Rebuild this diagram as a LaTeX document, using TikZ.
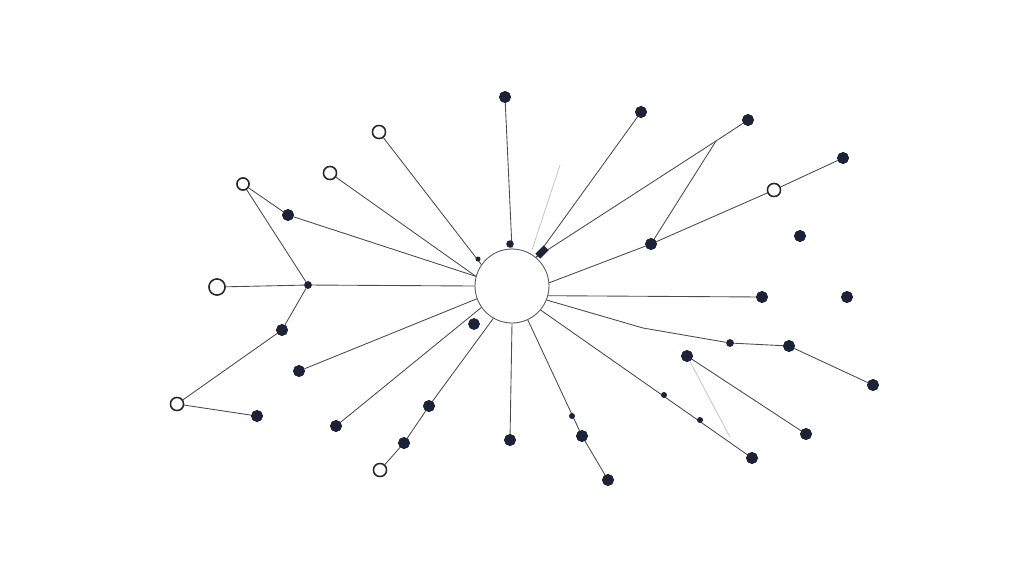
\documentclass[tikz,border=0pt]{standalone}
\usetikzlibrary{positioning}
\definecolor{inkblue}{HTML}{1C2339}
\tikzset{
  hub/.style={circle, draw=black!65, line width=0.5pt, fill=white, inner sep=0pt, minimum size=14.8mm},
  dot/.style={circle, fill=inkblue, draw=inkblue, inner sep=0pt, minimum size=2.2mm},
  pip/.style={circle, fill=inkblue, inner sep=0pt, minimum size=1.5mm},
  ring/.style={circle, draw=black!85, fill=white, line width=0.8pt, inner sep=0pt, minimum size=2.6mm},
  spoke/.style={draw=black!70, line width=0.5pt},
  faint/.style={draw=black!25, line width=0.4pt}
}
\begin{document}
\begin{tikzpicture}[x=0.02cm, y=-0.02cm]
    \useasboundingbox (0,0) rectangle (1024,576);

    % Hub
    \node[hub] (H) at (512,286) {};

    % Upper right
    \node[dot] (t1) at (505,97) {};
    \node[dot] (t2) at (641,112) {};
    \node[dot] (t3) at (748,120) {};
    \node[dot] (t4) at (843,158) {};
    \node[ring] (r1) at (774,190) {};
    \node[dot] (m1) at (651,244) {};
    \node[dot] (s1) at (800,236) {};
    \coordinate (j1) at (716,141);
    \coordinate (f1) at (560,165);
    \coordinate (f2) at (532,250);

    % Right
    \node[dot] (e1) at (762,297) {};
    \node[dot] (e2) at (847,297) {};
    \node[pip] (e3) at (730,343) {};
    \node[dot] (e4) at (789,346) {};
    \node[dot] (e5) at (873,385) {};
    \coordinate (k1) at (643,328);

    % Lower right
    \node[dot] (d1) at (687,356) {};
    \node[dot] (d2) at (806,434) {};
    \node[dot] (d3) at (752,458) {};
    \node[dot] (d4) at (608,480) {};
    \node[dot] (d5) at (582,436) {};
    \node[dot] (d6) at (510,440) {};
    \coordinate (g1) at (730,437);

    % Lower left
    \node[dot] (b1) at (429,406) {};
    \node[dot] (b2) at (404,443) {};
    \node[ring] (b3) at (380,470) {};
    \node[dot] (b4) at (336,426) {};
    \node[dot] (b5) at (299,371) {};

    % Left
    \node[pip] (l1) at (308,285) {};
    \node[ring, minimum size=3.2mm] (l2) at (217,287) {};
    \node[dot] (l3) at (282,330) {};
    \node[ring] (l4) at (177,404) {};
    \node[dot] (l5) at (257,416) {};
    \node[ring, minimum size=2.4mm] (l6) at (243,184) {};
    \node[dot] (l7) at (288,215) {};
    \node[ring] (l8) at (330,173) {};
    \node[ring] (l9) at (379,132) {};

    % Connectors
    \draw[spoke] (H.north) -- (t1);
    \draw[spoke] (H.50) -- (t2);
    \draw[spoke] (H.50) -- (j1) -- (t3);
    \draw[spoke] (j1) -- (m1);
    \draw[spoke] (H.5) -- (m1) -- (r1) -- (t4);
    \draw[faint] (f1) -- (f2);

    \draw[spoke] (H.-15) -- (e1);
    \draw[spoke] (H.-22) -- (k1) -- (e3) -- (e4) -- (e5);

    \draw[spoke] (d1) -- (d2);
    \draw[faint] (d1) -- (g1);
    \draw[spoke] (H.-40) -- (d3);
    \draw[spoke] (H.-65) -- (d5) -- (d4);
    \draw[spoke] (H.south) -- (d6);

    \draw[spoke] (H.-120) -- (b1) -- (b2) -- (b3);
    \draw[spoke] (H.-145) -- (b4);
    \draw[spoke] (H.-160) -- (b5);

    \draw[spoke] (H.west) -- (l1) -- (l2);
    \draw[spoke] (l1) -- (l3) -- (l4) -- (l5);
    \draw[spoke] (l1) -- (l6) -- (l7) -- (H.165);
    \draw[spoke] (l8) -- (H.165);
    \draw[spoke] (l9) -- (H.145);

    % Joints on the hub rim and spokes
    \node[pip] (p1) at (510,244) {};
    \node[pip, rectangle, rotate=45, minimum width=2.4mm, minimum height=1.4mm] (p2) at (542,252) {};
    \node[pip, minimum size=1mm] (p3) at (478,259) {};
    \node[dot] (p4) at (474,324) {};
    \node[pip, minimum size=1.2mm] (p5) at (664,395) {};
    \node[pip, minimum size=1.2mm] (p6) at (700,420) {};
    \node[pip, minimum size=1.2mm] (p7) at (572,416) {};

    % Redraw node tops
    \foreach \n in {t1,t2,t3,t4,m1,s1,e1,e2,e4,e5,d1,d2,d3,d4,d5,d6,b1,b2,b4,b5,l3,l5,l7}
        \node[dot] at (\n) {};
    \foreach \n in {r1,b3,l4,l8,l9}
        \node[ring] at (\n) {};
    \node[ring, minimum size=3.2mm] at (l2) {};
    \node[ring, minimum size=2.4mm] at (l6) {};
    \node[pip] at (l1) {};
    \node[pip] at (e3) {};
\end{tikzpicture}
\end{document}
